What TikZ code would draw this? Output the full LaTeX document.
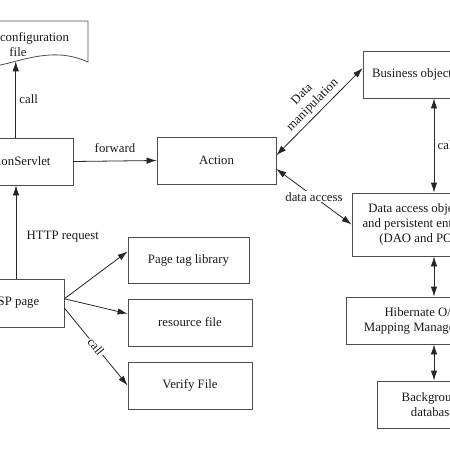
\documentclass[tikz,border=0pt]{standalone}
\usepackage{fontspec}
\setmainfont{Liberation Serif}
\usetikzlibrary{arrows.meta}

\begin{document}
\begin{tikzpicture}[x=1pt,y=-1pt]
		\tikzstyle{every node}=[font=\fontsize{12.8}{15}\selectfont, text=black!90];
		\tikzstyle{box}=[draw=black!70, line width=0.8pt, shape=rectangle, align=center, inner sep=0pt];
		\tikzstyle{link}=[draw=black!85, line width=0.8pt, -{Latex[length=10pt,width=6.5pt]}];
		\tikzstyle{dlink}=[link, {Latex[length=10pt,width=6.5pt]}-{Latex[length=10pt,width=6.5pt]}];
		\useasboundingbox (0,0) rectangle (450,450);
		\clip (0,0) rectangle (450,450);
		% left column
		\path (18,45)      node[box, draw=none, minimum width=140pt, minimum height=40pt] (cfg) {Struts configuration\\file};
		\draw[draw=black!70, line width=0.8pt] (-52,62) -- (-52,21) -- (88,21) -- (88,62)
		.. controls (35,38) and (-5,84) .. (-52,62) coordinate[pos=0.5] (cfgtip);
		\path (15,161.5)   node[box, minimum width=116pt, minimum height=47pt] (srv) {ActionServlet};
		\path (16,303)     node[box, minimum width=96pt, minimum height=48pt] (jsp) {JSP page};
		% middle column
		\path (216.5,160.5) node[box, minimum width=119pt, minimum height=47pt] (act) {Action};
		\path (188.5,260)  node[box, minimum width=121pt, minimum height=46pt] (tag) {Page tag library};
		\path (190,322.5)  node[box, minimum width=124pt, minimum height=47pt] (res) {resource file};
		\path (190,385.5)  node[box, minimum width=124pt, minimum height=47pt] (ver) {Verify File};
		% right column
		\path (414.5,74.5) node[box, minimum width=103pt, minimum height=47pt] (bus) {Business objects};
		\path (418,224.5)  node[box, minimum width=132pt, minimum height=63pt] (dao) {Data access objects\\and persistent entities\\(DAO and PO)};
		\path (422,320.5)  node[box, minimum width=152pt, minimum height=47pt] (hib) {Hibernate O/R\\Mapping Management};
		\path (433,404.5)  node[box, minimum width=112pt, minimum height=47pt] (bg) {Background\\database};
		\coordinate (rcol) at (434,0);
		% connectors
		\draw[link] (cfgtip |- srv.north) -- (cfgtip) node[midway, right] {call};
		\draw[link] (srv.east) -- (act.west) node[midway, above=5pt] {forward};
		\draw[link] (jsp.north) -- (jsp.north |- srv.south) node[pos=0.45, right=7pt] {HTTP request};
		\draw[link] (jsp.5) -- (tag.172);
		\draw[link] (jsp.5) -- (res.172);
		\draw[link] (jsp.-6) -- (ver.west) node[midway, sloped, fill=white, inner sep=1pt] {call};
		\draw[dlink] (act.5) -- (bus.173) node[midway, sloped, above, align=center] {Data\\manipulation};
		\draw[dlink] (dao.west) -- (act.-8) node[midway, fill=white, inner sep=1pt] {data access};
		\draw[dlink] (bus.south -| rcol) -- (dao.north -| rcol) node[midway, right] {call};
		\draw[dlink] (dao.south -| rcol) -- (hib.north -| rcol);
		\draw[dlink] (hib.south -| rcol) -- (bg.north -| rcol);
\end{tikzpicture}
\end{document}
